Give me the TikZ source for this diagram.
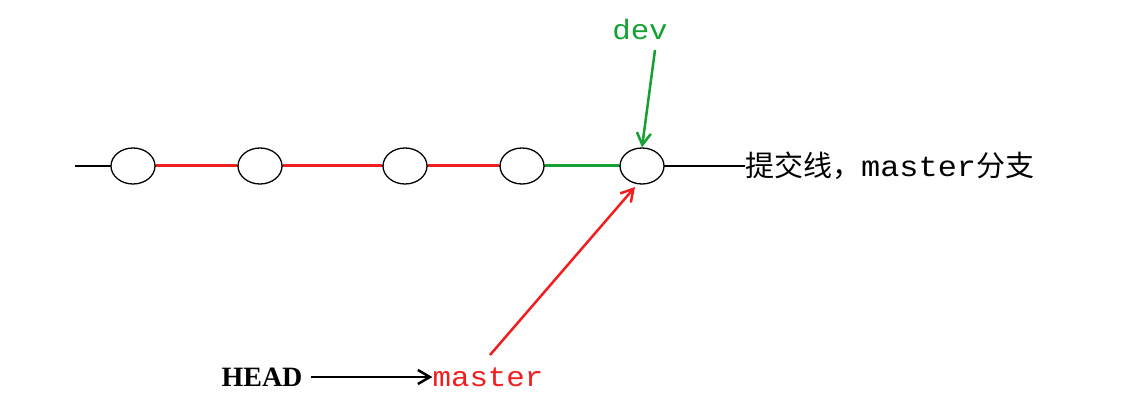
\documentclass[tikz,border=0pt]{standalone}
\usepackage{fontspec}
\usetikzlibrary{shapes.geometric,arrows.meta}
\newfontfamily\cjk{Noto Sans CJK SC}
\newfontfamily\monof[FakeStretch=1.1]{Liberation Mono}
\newfontfamily\serf{Liberation Serif}
\definecolor{gr}{RGB}{20,160,50}
\definecolor{rd}{RGB}{240,30,30}
\begin{document}
\begin{tikzpicture}[x=1pt,y=-1pt,
  commit/.style={draw,line width=1.3pt,ellipse,minimum width=44pt,minimum height=36pt,inner sep=0pt},
  lbl/.style={font=\fontsize{28}{28}\selectfont\monof,inner sep=0pt},
  tip/.style={-{Straight Barb[length=12pt,width=14pt]}}]
\useasboundingbox (0,0) rectangle (1122,406);
\coordinate (L) at (75,166);
\coordinate (R) at (745,166);
\draw[line width=1.3pt] (L) -- (R);
\foreach \n/\x in {a/133,b/260,c/405,d/522,e/642}{
  \node[commit,fill=white] (\n) at (\x,166) {};}
\draw[rd,line width=3pt] (a.east) -- (b.west) (b.east) -- (c.west) (c.east) -- (d.west);
\draw[gr,line width=3pt] (d.east) -- (e.west);
\node[anchor=west,inner sep=0pt,font=\fontsize{29}{29}\selectfont] (t) at (R) {\cjk 提交线，{\monof master}\cjk 分支};
\node[lbl,text=gr] (dev) at (640,30) {dev};
\draw[gr,line width=2.5pt,tip] (655,50) -- (e.north);
\node[lbl,text=rd] (m) at (488,377) {master};
\draw[rd,line width=2.5pt,tip] (490,355) -- (635,187);
\node[font=\fontsize{28}{28}\selectfont\serf\bfseries,inner sep=0pt] (h) at (262,377) {HEAD};
\draw[line width=2.5pt,tip] (h.east)++(8,0) -- (m.west);
\end{tikzpicture}
\end{document}
